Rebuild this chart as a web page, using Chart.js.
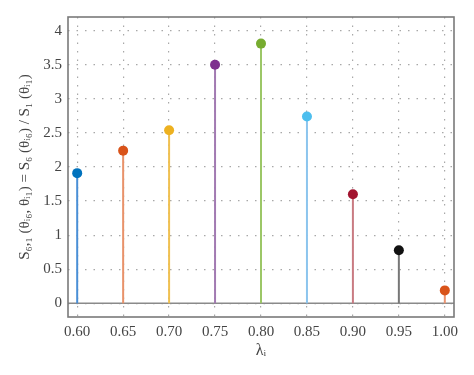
<!DOCTYPE html>
<html lang="en">
<head>
  <meta charset="UTF-8">
  <title>Stem plot</title>
  <script src="https://cdn.jsdelivr.net/npm/chart.js"></script>
  <style>
    body { margin: 0; background: #fff; }
    #wrap { width: 474px; height: 375px; }
  </style>
</head>
<body>
  <div id="wrap"><canvas id="grafico" width="474" height="375"></canvas></div>

  <script>
    // data
    const lambdas = [0.60, 0.65, 0.70, 0.75, 0.80, 0.85, 0.90, 0.95, 1.00];
    const ratios = [1.91, 2.24, 2.54, 3.50, 3.81, 2.74, 1.60, 0.78, 0.19];
    const dotColors = ['#0072BD', '#D95319', '#EDB120', '#7E2F8E', '#77AC30', '#4DBEEE', '#A2142F', '#111111', '#D95319'];
    const stemColors = ['#4a8fd6', '#e8926a', '#f0c050', '#a27ab2', '#9cc767', '#8cc5ee', '#c97b82', '#777777', '#eb9470'];
    const xTicks = [0.60, 0.65, 0.70, 0.75, 0.80, 0.85, 0.90, 0.95, 1.00];
    const yTicks = [0, 0.5, 1, 1.5, 2, 2.5, 3, 3.5, 4];
    const xMin = 0.59, xMax = 1.01, yMin = -0.2, yMax = 4.2;

    const fonte = 'Liberation Serif, DejaVu Serif, serif';

    const datasets = lambdas.map((x, i) => ({
      data: [{ x: x, y: 0 }, { x: x, y: ratios[i] }],
      showLine: true,
      borderColor: stemColors[i],
      borderWidth: 2,
      pointRadius: [0, 5],
      pointBackgroundColor: dotColors[i],
      pointBorderColor: dotColors[i],
      pointBorderWidth: 0
    }));
    // zero line
    datasets.push({
      data: [{ x: xMin, y: 0 }, { x: xMax, y: 0 }],
      showLine: true,
      borderColor: '#8a8a8a',
      borderWidth: 1.5,
      pointRadius: 0
    });

    const moldura = {
      id: 'moldura',
      afterDraw(chart) {
        const { ctx, chartArea: a } = chart;
        ctx.save();
        ctx.strokeStyle = '#7a7a7a';
        ctx.lineWidth = 1.6;
        ctx.strokeRect(a.left, a.top, a.right - a.left, a.bottom - a.top);
        ctx.restore();
      }
    };

    new Chart(document.getElementById('grafico').getContext('2d'), {
      type: 'scatter',
      data: { datasets },
      plugins: [moldura],
      options: {
        responsive: false,
        animation: false,
        layout: { padding: { left: 0, top: 17, right: 20, bottom: 0 } },
        plugins: { legend: { display: false }, tooltip: { enabled: false } },
        scales: {
          x: {
            type: 'linear', min: xMin, max: xMax,
            afterBuildTicks: s => { s.ticks = xTicks.map(v => ({ value: v })); },
            afterFit: s => { s.height = 58; },
            grid: { color: '#a8a8a8', lineWidth: 1.2, drawTicks: false },
            border: { display: false, dash: [1.5, 7] },
            ticks: { color: '#444', font: { family: fonte, size: 15 }, padding: 6, maxRotation: 0,
                     callback: v => Number(v).toFixed(2) },
            title: { display: true, text: 'λᵢ', color: '#444', font: { family: fonte, size: 16 }, padding: { top: 0, bottom: 15 } }
          },
          y: {
            min: yMin, max: yMax,
            afterBuildTicks: s => { s.ticks = yTicks.map(v => ({ value: v })); },
            afterFit: s => { s.width = 68; },
            grid: { color: '#a8a8a8', lineWidth: 1.2, drawTicks: false },
            border: { display: false, dash: [1.5, 7] },
            ticks: { color: '#444', font: { family: fonte, size: 15 }, padding: 6,
                     callback: v => String(v) },
            title: { display: true, text: 'S₆,₁ (θᵢ₆, θᵢ₁) = S₆ (θᵢ₆) / S₁ (θᵢ₁)', color: '#444',
                     font: { family: fonte, size: 15 }, padding: { top: 16, bottom: 0 } }
          }
        }
      }
    });
  </script>
</body>
</html>
